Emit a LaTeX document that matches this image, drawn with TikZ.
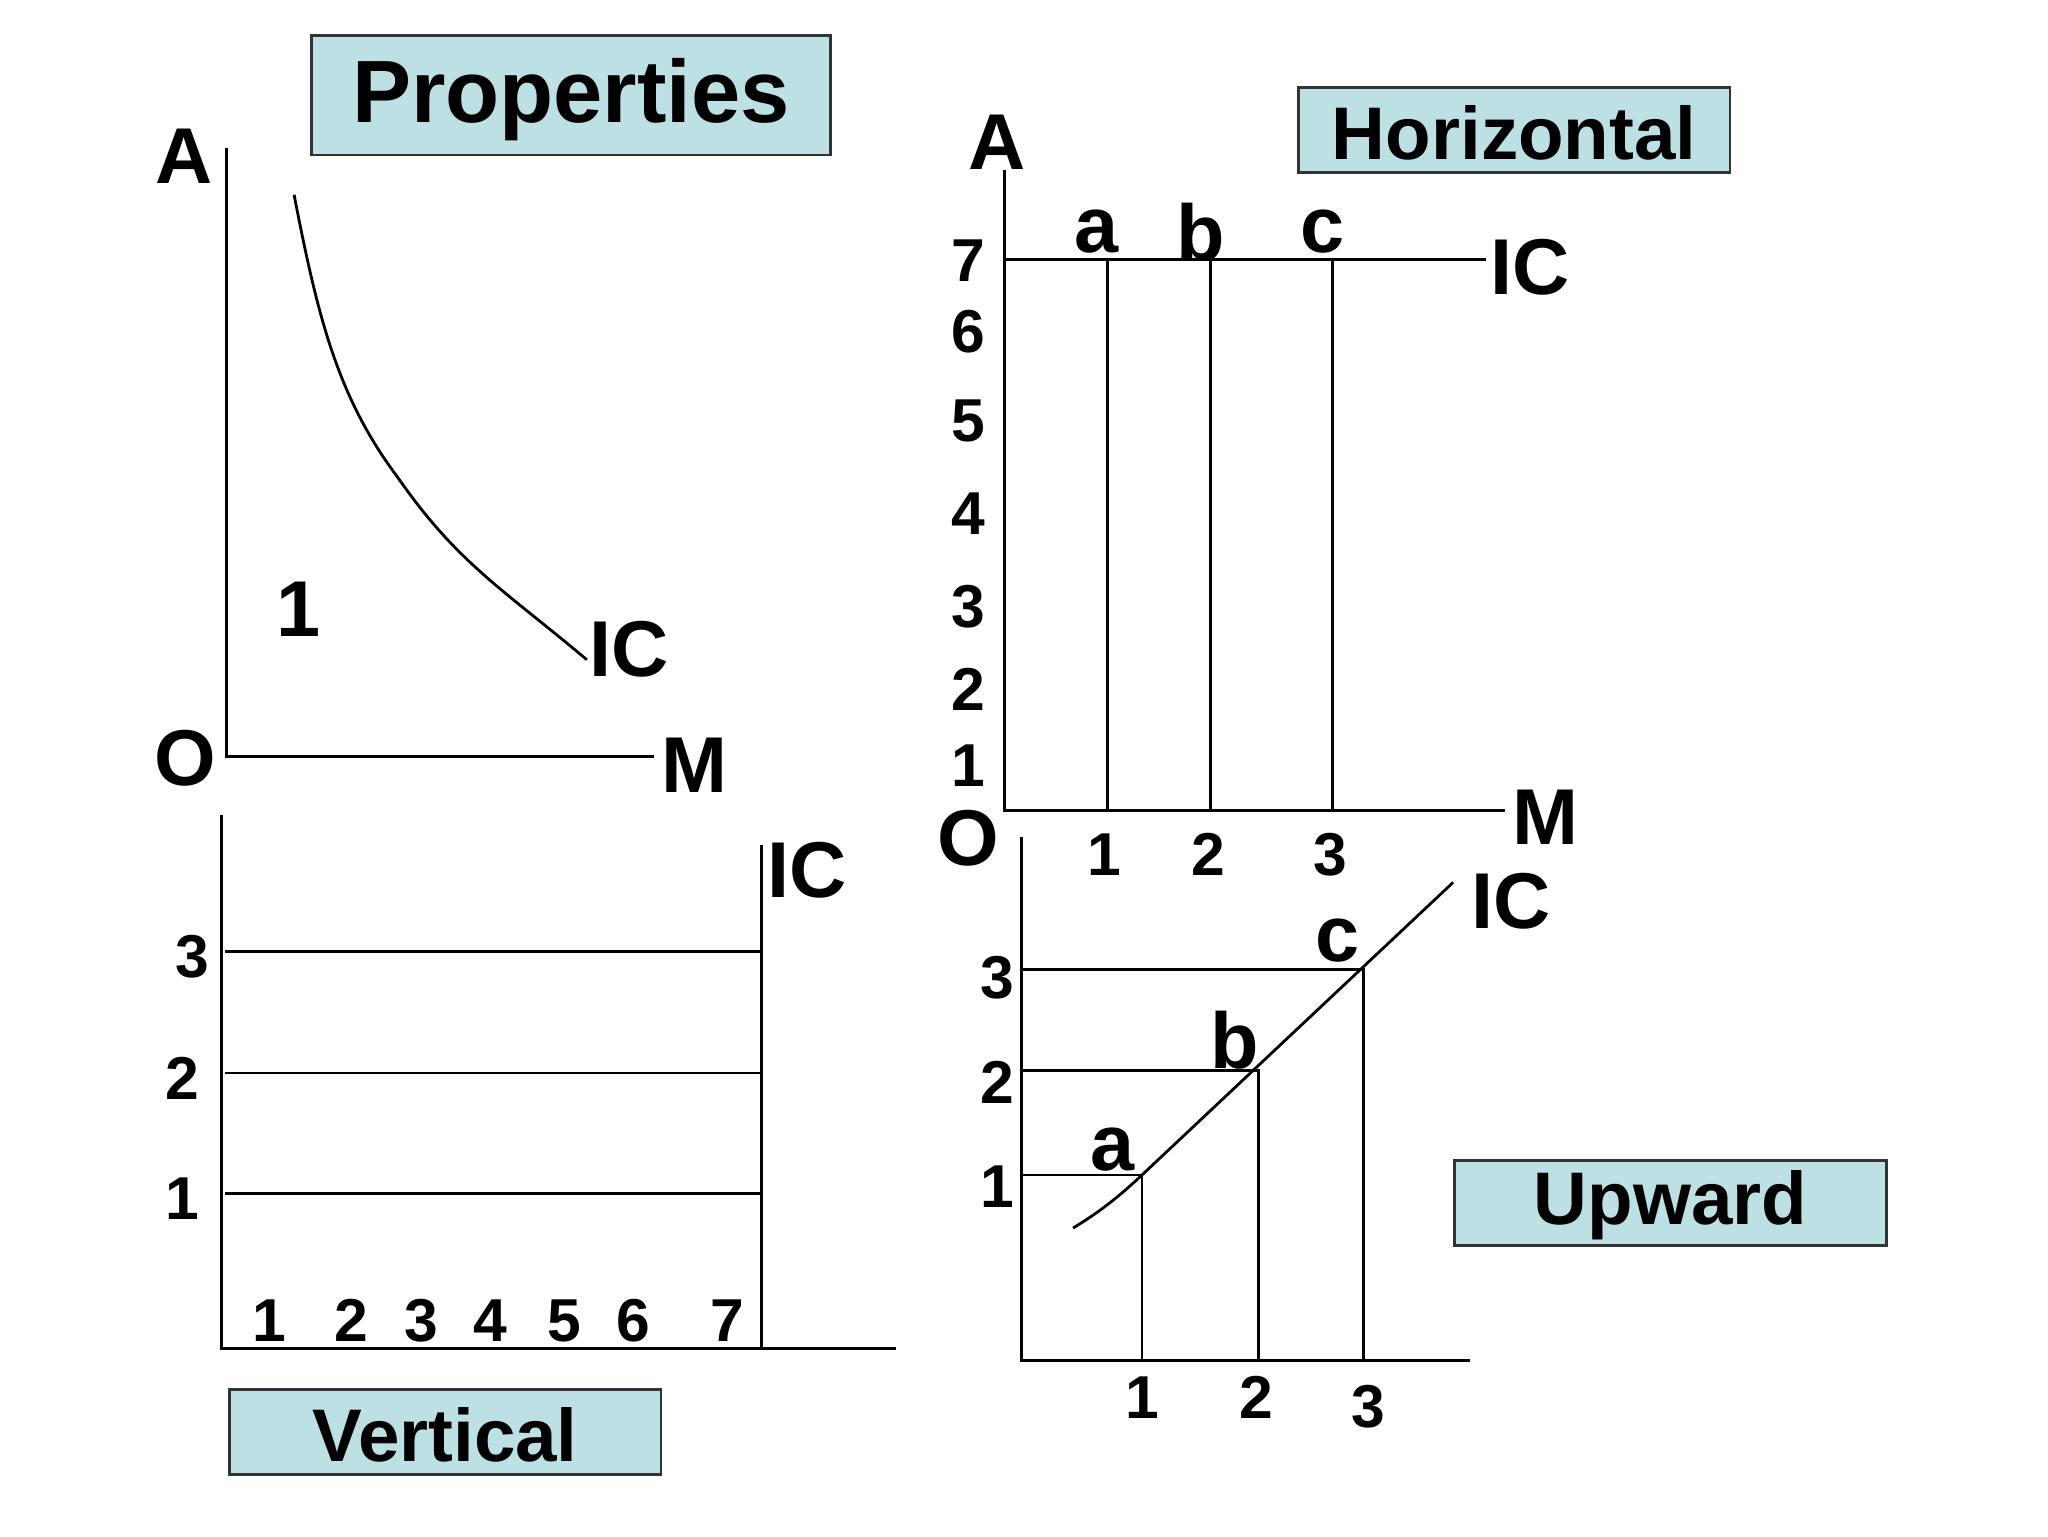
\documentclass[tikz,border=0pt]{standalone}
\usepackage{fontspec}
\setmainfont{Liberation Sans}
\begin{document}
\begin{tikzpicture}[x=0.01cm,y=-0.01cm,
  lbl/.style={font=\bfseries\fontsize{14}{14}\selectfont},
  big/.style={font=\bfseries\fontsize{17}{17}\selectfont},
  num/.style={font=\bfseries\fontsize{13}{13}\selectfont},
  tbox/.style={draw=black!80,fill=cyan!10!teal!15!white,fill=boxc,line width=0.6pt},
  ln/.style={line width=0.6pt}]
\definecolor{boxc}{HTML}{BCE0E3}
\useasboundingbox (0,0) rectangle (1546,1160);
% Properties panel
\filldraw[tbox] (235,27) rectangle (627,117);
\node[big,font=\bfseries\fontsize{19}{19}\selectfont] (tp) at (431,75) {Properties};
\node[lbl,font=\bfseries\fontsize{17}{17}\selectfont] (a1) at (139,118) {A};
\node[lbl,font=\bfseries\fontsize{17}{17}\selectfont] (o1) at (140,572) {O};
\node[lbl,font=\bfseries\fontsize{17}{17}\selectfont] (m1) at (524,578) {M};
\node[lbl,font=\bfseries\fontsize{17}{17}\selectfont] (ic1) at (475,490) {IC};
\node[lbl,font=\bfseries\fontsize{17}{17}\selectfont] (one1) at (225,460) {1};
\draw[ln] (171,112) -- (171,571) -- (494,571);
\draw[ln] (222,147) .. controls (240,240) and (255,300) .. (300,360) .. controls (345,425) and (380,445) .. (443,498);
% Horizontal panel
\filldraw[tbox] (980,66) rectangle (1306,130);
\node[lbl,font=\bfseries\fontsize{16}{16}\selectfont] (th) at (1143,100) {Horizontal};
\node[lbl,font=\bfseries\fontsize{17}{17}\selectfont] (a2) at (753,107) {A};
\node[lbl,font=\bfseries\fontsize{17}{17}\selectfont] (o2) at (731,633) {O};
\node[lbl,font=\bfseries\fontsize{17}{17}\selectfont] (m2) at (1167,617) {M};
\node[lbl,font=\bfseries\fontsize{17}{17}\selectfont] (ic2) at (1155,202) {IC};
\draw[ln] (758,128) -- (758,612) -- (1136,612);
\draw[ln] (758,196) -- (1122,196);
\foreach \x/\l/\n in {836/a/1,914/b/2,1006/c/3}{
  \draw[ln] (\x,196) -- (\x,612);
  \node[lbl,font=\bfseries\fontsize{17}{17}\selectfont] at (\x-8,175) {\l};
  \node[num] at (\x-2,645) {\n};}
\foreach \y/\n in {197/7,250/6,318/5,388/4,458/3,520/2,578/1}
  \node[num] at (731,\y) {\n};
% Vertical panel
\filldraw[tbox] (173,1049) rectangle (499,1113);
\node[lbl,font=\bfseries\fontsize{16}{16}\selectfont] (tv) at (336,1083) {Vertical};
\draw[ln] (167,615) -- (167,1018) -- (676,1018);
\draw[ln] (575,638) -- (575,1018);
\node[lbl,font=\bfseries\fontsize{17}{17}\selectfont] (ic3) at (609,657) {IC};
\foreach \y/\n/\xx in {718/3/145,810/2/138,901/1/138}{
  \draw[ln] (170,\y) -- (575,\y);
  \node[num] at (\xx,\y+4) {\n};}
\foreach \x/\n in {203/1,265/2,318/3,370/4,426/5,478/6,549/7}
  \node[num] at (\x,997) {\n};
% Upward panel
\filldraw[tbox] (1098,876) rectangle (1424,940);
\node[lbl,font=\bfseries\fontsize{16}{16}\selectfont] (tu) at (1261,910) {Upward};
\draw[ln] (771,632) -- (771,1027) -- (1110,1027);
\draw[ln] (810,927) .. controls (830,915) and (845,903) .. (862,887) -- (1097,666);
\node[lbl,font=\bfseries\fontsize{17}{17}\selectfont] (ic4) at (1141,680) {IC};
\foreach \x/\y/\l in {862/887/a,950/808/b,1029/732/c}{
  \draw[ln] (771,\y) -- (\x,\y) -- (\x,1027);}
\node[lbl,font=\bfseries\fontsize{17}{17}\selectfont] at (840,868) {a};
\node[lbl,font=\bfseries\fontsize{17}{17}\selectfont] at (932,785) {b};
\node[lbl,font=\bfseries\fontsize{17}{17}\selectfont] at (1010,710) {c};
\foreach \y/\n in {738/3,817/2,896/1} \node[num] at (753,\y) {\n};
\node[num] at (862,1055) {1};
\node[num] at (948,1055) {2};
\node[num] at (1033,1062) {3};
\end{tikzpicture}
\end{document}
